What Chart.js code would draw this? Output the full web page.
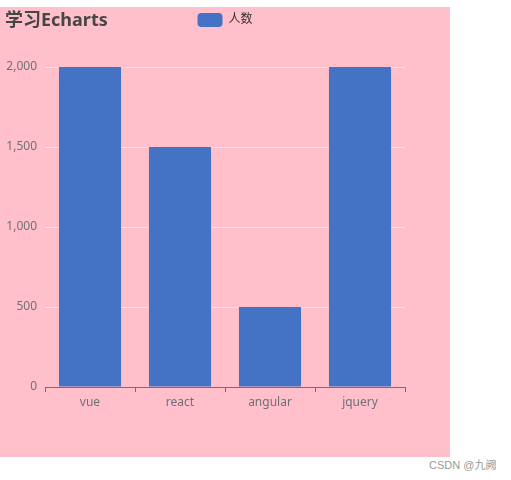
<!DOCTYPE html>
<html><head><meta charset="utf-8">
<script src="https://cdn.jsdelivr.net/npm/chart.js@4/dist/chart.umd.min.js"></script>
<style>
html,body{margin:0;padding:0;background:#fff;width:511px;height:480px;overflow:hidden;}
#wrap{position:absolute;left:0;top:7px;width:450px;height:450px;background:#FFC0CB;}
#title{position:absolute;left:5px;top:0px;font:bold 18px 'Noto Sans','Noto Sans CJK SC',sans-serif;color:#464646;line-height:24px;}
#wm{position:absolute;left:429px;top:457px;font:11px 'Liberation Sans','Noto Sans CJK SC',sans-serif;color:#999;line-height:16px;}
canvas{position:absolute;left:0;top:0;}
</style></head>
<body>
<div id="wrap"><canvas id="c" width="450" height="450"></canvas><div id="title">学习Echarts</div></div>
<div id="wm">CSDN @九阙</div>
<script>
const categories = ['vue', 'react', 'angular', 'jquery'];
const seriesName = '人数';
const values = [2000, 1500, 500, 2000];
const yTicks = [0, 500, 1000, 1500, 2000];

const font = "'Noto Sans','Noto Sans CJK SC',sans-serif";
new Chart(document.getElementById('c'), {
  type: 'bar',
  data: {
    labels: categories,
    datasets: [{
      label: seriesName,
      data: values,
      backgroundColor: '#4472C4',
      borderWidth: 0,
      barPercentage: 0.69,
      categoryPercentage: 1
    }]
  },
  options: {
    responsive: false,
    animation: false,
    layout: { padding: 0 },
    plugins: {
      title: { display: false },
      subtitle: { display: true, text: ' ', weight: 500, padding: 0, font: { size: 30, lineHeight: 1 } },
      tooltip: { enabled: false },
      legend: {
        display: true,
        position: 'top',
        labels: {
          boxWidth: 25, boxHeight: 14, useBorderRadius: true, borderRadius: 4,
          color: '#333', font: { family: font, size: 12 }, padding: 6
        }
      }
    },
    scales: {
      x: {
        grid: { display: true, offset: true, drawOnChartArea: false, drawTicks: true, tickLength: 5, color: '#6E7079' },
        border: { display: true, color: '#6E7079' },
        ticks: { color: '#6E7079', font: { family: font, size: 12 }, padding: 3 },
        afterFit: s => { s.height = 70; }
      },
      y: {
        min: 0, max: 2000,
        afterBuildTicks: s => { s.ticks = yTicks.map(v => ({ value: v })); },
        grid: { color: '#E6E9F0', drawTicks: false },
        border: { display: false },
        ticks: { color: '#6E7079', font: { family: font, size: 12 }, padding: 8,
          callback: v => v.toLocaleString('en-US') },
        afterFit: s => { s.width = 45; }
      },
      yRight: {
        position: 'right', display: true, min: 0, max: 2000,
        grid: { display: false, drawTicks: false },
        border: { display: false },
        ticks: { display: false },
        afterFit: s => { s.width = 45; }
      }
    }
  }
});
</script>
</body></html>
